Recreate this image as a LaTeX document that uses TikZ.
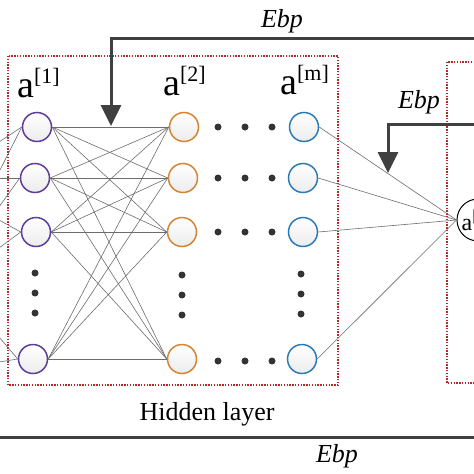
\documentclass[tikz,border=0pt]{standalone}
\usepackage{fontspec}
\setmainfont{Liberation Serif}
\usetikzlibrary{arrows.meta}

\definecolor{layerone}{RGB}{94,60,153}
\definecolor{layertwo}{RGB}{213,133,47}
\definecolor{layerm}{RGB}{44,123,182}
\definecolor{boxred}{RGB}{178,43,43}
\definecolor{ebpgray}{RGB}{64,64,64}

\tikzset{
  neuron/.style={circle, minimum size=29pt, inner sep=0pt, line width=1.5pt,
    top color=white, bottom color=gray!15},
  bigdot/.style={circle, fill=black!80, minimum size=7pt, inner sep=0pt},
  wire/.style={gray!85!black, line width=0.6pt},
  layerbox/.style={boxred, line width=1.4pt, dash pattern=on 1.4pt off 1.4pt},
  ebparrow/.style={ebpgray, line width=3pt, -{Triangle[width=20pt,length=21pt]}},
  ebpline/.style={ebpgray, line width=3pt},
  ebplabel/.style={font=\fontsize{26}{26}\selectfont\itshape, anchor=base, inner sep=0pt},
}

\newcommand{\alabel}[1]{{\fontsize{38}{38}\selectfont a}{\fontsize{22}{22}\selectfont\raisebox{14pt}{[#1]}}}

\begin{document}
\begin{tikzpicture}[x=1pt, y=-1pt]
    \useasboundingbox (0,0) rectangle (474,474);
    \clip (0,0) rectangle (474,474);

    % Layer boxes
    \draw[layerbox] (8,56) rectangle (338,385);
    \draw[layerbox] (447,62) rectangle (490,383);

    % Neurons
    \foreach \n/\xa/\xb/\xc/\y in {1/37/184/304/127, 2/35/183/303/178, 3/36/182/303/232, 4/33/182/302/359} {
        \node[neuron, draw=layerone] (p\n) at (\xa,\y) {};
        \node[neuron, draw=layertwo] (o\n) at (\xb,\y) {};
        \node[neuron, draw=layerm] (b\n) at (\xc,\y) {};
    }
    \node[circle, draw, line width=1pt, fill=white, minimum size=42pt, inner sep=0pt,
          font=\fontsize{24}{24}\selectfont] (out) at (478,220) {a\textsuperscript{[L]}};

    % Layer labels
    \node[anchor=base west, inner sep=0pt] (l1) at (17,97) {\alabel{1}};
    \node[anchor=base west, inner sep=0pt] (l2) at (163,95) {\alabel{2}};
    \node[anchor=base west, inner sep=0pt] (lm) at (280,94) {\alabel{m}};

    % Dots
    \foreach \n/\y in {1/127, 2/178, 3/232, 4/361}
        \foreach \x in {218,245,272}
            \node[bigdot] (h\n\x) at (\x,\y) {};
    \foreach \y in {273,293,313} {
        \node[bigdot] (vp\y) at (35,\y) {};
        \node[bigdot] (vo\y) at (182,\y+2) {};
        \node[bigdot] (vb\y) at (301,\y+1) {};
    }

    % Input wires
    \foreach \n/\ya/\yb in {1/142/172, 2/178/207, 3/220/248, 4/337/362} {
        \coordinate (ia\n) at (-1,\ya);
        \coordinate (ib\n) at (-1,\yb);
        \draw[wire] (ia\n) -- (p\n.west);
        \draw[wire] (ib\n) -- (p\n.west);
    }

    % Hidden wires
    \foreach \i in {1,...,4}
        \foreach \j in {1,...,4}
            \draw[wire] (p\i.east) -- (o\j.west);
    \foreach \i in {1,...,4}
        \draw[wire] (b\i.east) -- (out.west);

    % Error back propagation
    \coordinate (e1s) at (490,38);
    \coordinate (e1t) at (111,126);
    \draw[ebparrow] (e1s) -| (e1t);
    \node[ebplabel] (t1) at (282,27) {Ebp};

    \coordinate (e2s) at (490,124);
    \coordinate (e2t) at (388,173);
    \draw[ebparrow] (e2s) -| (e2t);
    \node[ebplabel] (t2) at (419,108) {Ebp};

    \coordinate (e3s) at (-5,437);
    \coordinate (e3t) at (490,437);
    \draw[ebpline] (e3s) -- (e3t);
    \node[ebplabel] (t3) at (337,462) {Ebp};

    \node[anchor=base, inner sep=0pt, font=\fontsize{26}{26}\selectfont] (hid) at (207,420) {Hidden layer};
\end{tikzpicture}
\end{document}
